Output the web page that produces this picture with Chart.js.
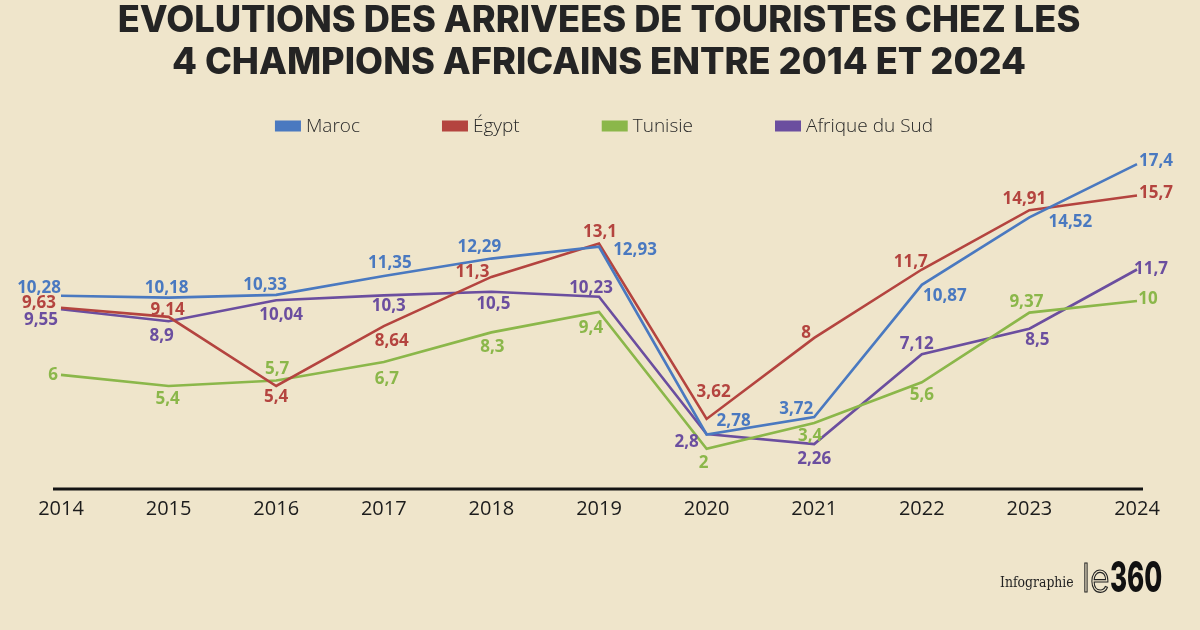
<!DOCTYPE html>
<html>
<head>
<meta charset="utf-8">
<script src="https://cdn.jsdelivr.net/npm/chart.js@4/dist/chart.umd.min.js"></script>
<style>
  html, body { margin: 0; padding: 0; background: #eee4ca; }
  #wrap { width: 1200px; height: 630px; position: relative; }
  canvas { display: block; }
</style>
</head>
<body>
<div id="wrap"><canvas id="c" width="1200" height="630"></canvas></div>
<script>
// ---- Data ----
const years = ['2014','2015','2016','2017','2018','2019','2020','2021','2022','2023','2024'];
const maroc = [10.28, 10.18, 10.33, 11.35, 12.29, 12.93, 2.78, 3.72, 10.87, 14.52, 17.4];
const egypte = [9.63, 9.14, 5.4, 8.64, 11.3, 13.1, 3.62, 8, 11.7, 14.91, 15.7];
const tunisie = [6, 5.4, 5.7, 6.7, 8.3, 9.4, 2, 3.4, 5.6, 9.37, 10];
const afriqueSud = [9.55, 8.9, 10.04, 10.3, 10.5, 10.23, 2.8, 2.26, 7.12, 8.5, 11.7];
const seriesNames = ['Maroc', 'Égypt', 'Tunisie', 'Afrique du Sud'];
const titleLines = ['EVOLUTIONS DES ARRIVEES DE TOURISTES CHEZ LES', '4 CHAMPIONS AFRICAINS ENTRE 2014 ET 2024'];

// ---- Styles ----
const colors = ['#4a79c0', '#b4443f', '#8bb74a', '#6b4e9f'];
// label centre offsets (px) relative to each point
const labelOffsets = [
  [[-22,-8],[-2,-9],[-11,-10],[6,-13],[-12,-11],[36,3],[27,-13],[-18,-8],[23,11],[41,5],[19,-3]],
  [[-22,-5],[-1,-7],[0,11],[8,15],[-19,-5],[1,-11],[7,-27],[-8,-5],[-11,-7],[-5,-11],[19,-2]],
  [[-8,0],[-1,13],[1,-11],[3,17],[1,15],[-8,16],[-3,14],[-4,13],[0,13],[-3,-10],[11,-2]],
  [[-20,11],[-7,15],[5,15],[5,11],[2,12],[-8,-9],[-20,8],[0,15],[-5,-10],[8,11],[14,0]]
];

// fit title font to the reference width
const mc = document.createElement('canvas').getContext('2d');
mc.font = '800 100px Inter';
const titleSize = Math.min(40, 100 * 963 / mc.measureText(titleLines[0]).width);

const bgPlugin = {
  id: 'bg',
  beforeDraw(chart) {
    const ctx = chart.ctx;
    ctx.save();
    ctx.fillStyle = '#efe5cb';
    ctx.fillRect(0, 0, chart.width, chart.height);
    ctx.restore();
  }
};

const axisLinePlugin = {
  id: 'axisLine',
  beforeDatasetsDraw(chart) {
    const {ctx, chartArea} = chart;
    ctx.save();
    ctx.strokeStyle = '#141414';
    ctx.lineWidth = 3;
    ctx.beginPath();
    ctx.moveTo(chartArea.left - 8, chartArea.bottom);
    ctx.lineTo(chartArea.right + 6, chartArea.bottom);
    ctx.stroke();
    ctx.restore();
  }
};

const labelsPlugin = {
  id: 'valueLabels',
  afterDatasetsDraw(chart) {
    const ctx = chart.ctx;
    ctx.save();
    ctx.font = '700 17px "Open Sans"';
    ctx.textAlign = 'center';
    ctx.textBaseline = 'middle';
    chart.data.datasets.forEach((ds, i) => {
      const meta = chart.getDatasetMeta(i);
      ctx.fillStyle = ds.borderColor;
      meta.data.forEach((pt, j) => {
        const off = labelOffsets[i][j];
        const txt = String(ds.data[j]).replace('.', ',');
        ctx.fillText(txt, pt.x + off[0], pt.y + off[1]);
      });
    });
    ctx.restore();
  }
};

const legendPlugin = {
  id: 'customLegend',
  afterDraw(chart) {
    const ctx = chart.ctx;
    ctx.save();
    ctx.font = '300 19px "Open Sans"';
    const boxW = 26, boxH = 11, gapText = 5, gap = 82, cy = 126;
    const items = chart.data.datasets.map(ds => ({
      text: ds.label, color: ds.borderColor, w: boxW + gapText + ctx.measureText(ds.label).width
    }));
    const total = items.reduce((s, it) => s + it.w, 0) + gap * (items.length - 1);
    let x = 604 - total / 2;
    ctx.textBaseline = 'middle';
    ctx.textAlign = 'left';
    items.forEach(it => {
      ctx.fillStyle = it.color;
      ctx.fillRect(x, cy - boxH / 2, boxW, boxH);
      ctx.fillStyle = '#2a2a2a';
      ctx.fillText(it.text, x + boxW + gapText, cy + 1);
      x += it.w + gap;
    });
    ctx.restore();
  }
};

const footerPlugin = {
  id: 'footer',
  afterDraw(chart) {
    const ctx = chart.ctx;
    ctx.save();
    ctx.fillStyle = '#222';
    ctx.textBaseline = 'alphabetic';
    ctx.textAlign = 'left';
    ctx.font = '15px "DejaVu Serif"';
    ctx.save();
    ctx.translate(1000, 587);
    ctx.scale(0.83, 1);
    ctx.fillText('Infographie', 0, 0);
    ctx.restore();
    // logo "le360"
    ctx.font = '300 40px Inter';
    ctx.strokeStyle = '#222';
    ctx.lineWidth = 1.2;
    ctx.save();
    ctx.translate(1082, 592);
    ctx.scale(0.85, 1);
    ctx.strokeText('le', 0, 0);
    ctx.restore();
    ctx.font = '800 42px Inter';
    ctx.save();
    ctx.translate(1110, 592);
    ctx.scale(0.62, 1);
    ctx.fillStyle = '#111';
    ctx.fillText('360', 0, 0);
    ctx.restore();
    ctx.restore();
  }
};

const seriesData = [maroc, egypte, tunisie, afriqueSud];

new Chart(document.getElementById('c'), {
  type: 'line',
  data: {
    labels: years,
    datasets: seriesData.map((d, i) => ({
      label: seriesNames[i],
      data: d,
      borderColor: colors[i],
      backgroundColor: colors[i],
      borderWidth: 2.6,
      pointRadius: 0,
      tension: 0,
      fill: false
    }))
  },
  options: {
    responsive: false,
    animation: false,
    devicePixelRatio: 1,
    layout: { padding: { left: 61, right: 63, top: 0, bottom: 101 } },
    plugins: {
      legend: { display: false },
      tooltip: { enabled: false },
      title: {
        display: true,
        text: titleLines,
        color: '#242424',
        font: { family: 'Inter', weight: 800, size: titleSize, lineHeight: 42 / titleSize },
        padding: { top: 0, bottom: 69 }
      }
    },
    scales: {
      x: {
        type: 'category',
        offset: false,
        grid: { display: false, drawTicks: false },
        border: { display: false },
        ticks: {
          color: '#1c1c1c',
          font: { family: 'Open Sans', size: 20 },
          padding: 8,
          maxRotation: 0,
          autoSkip: false
        }
      },
      y: {
        display: false,
        min: -0.17,
        max: 18
      }
    }
  },
  plugins: [bgPlugin, axisLinePlugin, labelsPlugin, legendPlugin, footerPlugin]
});
</script>
</body>
</html>
